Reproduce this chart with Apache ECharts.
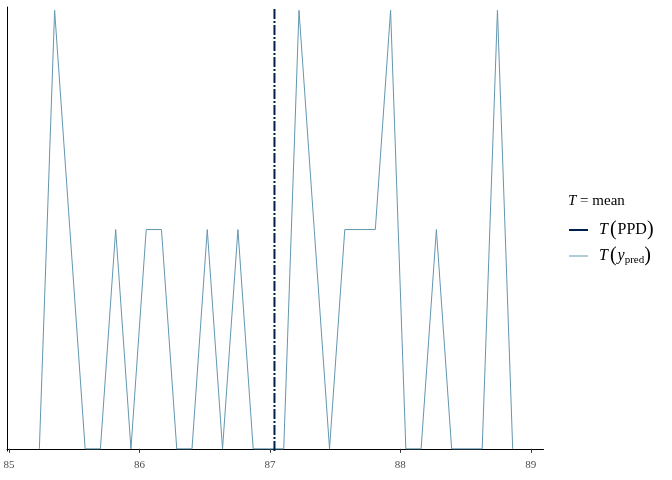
<!DOCTYPE html>
<html>
<head>
<meta charset="utf-8">
<script src="https://cdn.jsdelivr.net/npm/echarts@6/dist/echarts.min.js"></script>
<style>html,body{margin:0;padding:0;background:#fff}#c{width:672px;height:480px}</style>
</head>
<body>
<div id="c"></div>
<script>
// bin centers of the frequency polygon (T(y_pred) = mean)
var binCenters = [85.233, 85.350, 85.467, 85.584, 85.701, 85.818, 85.935, 86.052, 86.169, 86.286,
  86.403, 86.520, 86.637, 86.755, 86.872, 86.989, 87.106, 87.223, 87.340, 87.457,
  87.574, 87.691, 87.808, 87.925, 88.042, 88.159, 88.276, 88.393, 88.510, 88.627,
  88.744, 88.861];
var counts = [0, 2, 1, 0, 0, 1, 0, 1, 1, 0, 0, 1, 0, 1, 0, 0, 0, 2, 1, 0, 1, 1, 1, 2, 0, 0, 1, 0, 0, 0, 2, 0];
var ppdMean = 87.035;
var xTicks = [85, 86, 87, 88, 89];
var yRange = [-0.01, 2.015];

var polyData = binCenters.map(function (x, i) { return [x, counts[i]]; });
var vlineData = [[ppdMean, yRange[0]], [ppdMean, yRange[1]]];

var serif = '"Liberation Serif", "DejaVu Serif", serif';
var chart = echarts.init(document.getElementById('c'), null, {renderer: 'canvas'});
chart.setOption({
  backgroundColor: '#ffffff',
  animation: false,
  grid: {left: 7, right: 128.5, top: 7, bottom: 29, containLabel: false},
  xAxis: {
    type: 'value', min: 84.985, max: 89.097,
    axisLine: {show: true, lineStyle: {color: '#000', width: 1}},
    axisTick: {show: true, length: 4, customValues: xTicks, lineStyle: {color: '#333'}},
    axisLabel: {customValues: xTicks, margin: 9, fontFamily: serif, fontSize: 11, color: '#4d4d4d'},
    splitLine: {show: false}
  },
  yAxis: {
    type: 'value', min: yRange[0], max: yRange[1],
    axisLine: {show: true, lineStyle: {color: '#000', width: 1}},
    axisTick: {show: false}, axisLabel: {show: false}, splitLine: {show: false}
  },
  title: {
    text: '{it|T}{n| = mean}', left: 568, top: 194, padding: 0,
    textStyle: {fontWeight: 'normal', rich: {
      it: {fontFamily: serif, fontStyle: 'italic', fontWeight: 'normal', fontSize: 15, color: '#000'},
      n: {fontFamily: serif, fontWeight: 'normal', fontSize: 15, color: '#000'}
    }}
  },
  legend: {
    orient: 'vertical', left: 569, top: 220, padding: 0, itemWidth: 19, itemHeight: 14, itemGap: 6,
    data: [
      {name: 'T(PPD)', icon: 'path://M0,6 L19,6 L19,8 L0,8 Z', itemStyle: {color: '#011f4b'}},
      {name: 'T(y_pred)', icon: 'path://M0,6.5 L19,6.5 L19,7.5 L0,7.5 Z', itemStyle: {color: '#6497b1'}}
    ],
    formatter: function (name) {
      if (name === 'T(PPD)') return '{it|T}{par|(}{p|PPD}{par|)}';
      return '{it|T}{par|(}{iy|y}{sub|pred}{par|)}';
    },
    textStyle: {
      padding: [0, 0, 0, 6],
      rich: {
        it: {fontFamily: serif, fontStyle: 'italic', fontSize: 16, color: '#000', padding: [0, 2, 0, 0]},
        iy: {fontFamily: serif, fontStyle: 'italic', fontSize: 16, color: '#000'},
        p: {fontFamily: serif, fontSize: 16, color: '#000'},
        par: {fontFamily: serif, fontSize: 20, color: '#000', padding: [0, 1, 0, 0]},
        sub: {fontFamily: serif, fontSize: 11, color: '#000', padding: [8, 0, 0, 0]}
      }
    }
  },
  series: [
    {
      name: 'T(y_pred)', type: 'line', data: polyData, symbol: 'none',
      lineStyle: {color: '#6497b1', width: 1}, itemStyle: {color: '#6497b1'}, z: 2
    },
    {
      name: 'T(PPD)', type: 'line', data: vlineData, symbol: 'none',
      lineStyle: {color: '#011f4b', width: 2, type: [10, 2, 2, 2]}, itemStyle: {color: '#011f4b'}, z: 3
    }
  ]
});
</script>
</body>
</html>
